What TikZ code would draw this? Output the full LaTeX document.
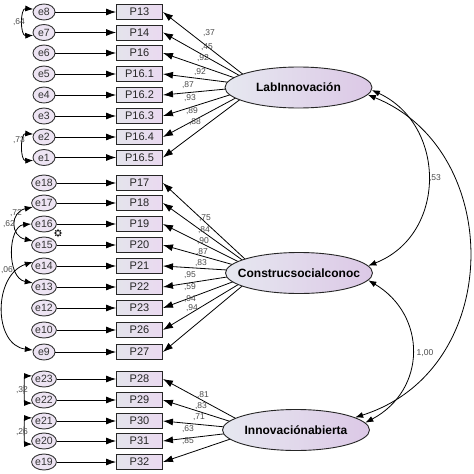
\documentclass[tikz,border=0pt]{standalone}
\usepackage{fontspec}
\setmainfont{Liberation Sans}
\usetikzlibrary{arrows.meta,shapes.geometric}
\definecolor{errfill}{HTML}{EDE4F3}
\definecolor{boxl}{HTML}{E4E4EC}
\definecolor{boxr}{HTML}{EAD9F0}
\definecolor{latl}{HTML}{E6E8F0}
\definecolor{latr}{HTML}{DCC8E6}
\begin{document}
\begin{tikzpicture}[x=1pt,y=-1pt,
  err/.style={ellipse, draw=black!80, line width=0.9pt, fill=errfill, minimum width=22pt, minimum height=16pt, inner sep=0pt, font=\fontsize{10.5}{10.5}\selectfont, text=black!80},
  obs/.style={rectangle, draw=black!85, line width=0.9pt, left color=boxl, right color=boxr, minimum width=46pt, minimum height=15pt, inner sep=0pt, font=\fontsize{11}{11}\selectfont, text=black!85},
  lat/.style={ellipse, draw=black!85, line width=0.9pt, left color=latl, right color=latr, minimum width=147pt, minimum height=41pt, inner sep=0pt},
  latname/.style={font=\bfseries\fontsize{12}{12}\selectfont, inner sep=0pt},
  arr/.style={line width=0.8pt, -{Latex[length=10pt,width=7pt]}},
  cov/.style={line width=0.8pt, {Latex[length=8pt,width=6pt]}-{Latex[length=8pt,width=6pt]}},
  lbl/.style={font=\fontsize{8.5}{8.5}\selectfont, text=black!70, inner sep=0pt}]
\fill[white] (0,0) rectangle (474,474);
\useasboundingbox (0,0) rectangle (474,474);
% error terms and indicators
\foreach \e/\n/\t/\y in {e8/o1/P13/12, e7/o2/P14/32.5, e6/o3/P16/53, e5/o4/P16.1/74, e4/o5/P16.2/95, e3/o6/P16.3/116, e2/o7/P16.4/137, e1/o8/P16.5/157.5,
  e18/o9/P17/183, e17/o10/P18/203, e16/o11/P19/224, e15/o12/P20/245, e14/o13/P21/266, e13/o14/P22/287, e12/o15/P23/308, e10/o16/P26/330, e9/o17/P27/352,
  e23/o18/P28/379, e22/o19/P29/400, e21/o20/P30/421, e20/o21/P31/441, e19/o22/P32/462}{
  \node[err] (\e) at (44,\y) {\e};
  \node[obs] (\n) at (139.5,\y) {\t};
  \draw[arr] (\e) -- (\n);
}
% focus points for loadings
\coordinate (labf) at (258,86);
\coordinate (conf) at (259,272);
\coordinate (innf) at (257,430);
\foreach \n/\v/\lx/\ly in {o1/{,37}/209/33, o2/{,45}/207/47, o3/{,92}/203/58, o4/{,92}/200/72, o5/{,87}/188/85, o6/{,93}/190/98, o7/{,89}/192/111, o8/{,88}/195/122}{
  \draw[arr] (labf) -- (\n.east);
  \node[lbl] at (\lx,\ly) {\v};
}
\foreach \n/\v/\lx/\ly in {o9/{,75}/205/218, o10/{,84}/204/230, o11/{,90}/203/241, o12/{,87}/202/252, o13/{,83}/201/263, o14/{,95}/190/275, o15/{,59}/190/287, o16/{,94}/190/299, o17/{,94}/192/308}{
  \draw[arr] (conf) -- (\n.east);
  \node[lbl] at (\lx,\ly) {\v};
}
\foreach \n/\v/\lx/\ly in {o18/{,81}/203/395, o19/{,83}/201/406, o20/{,71}/199/417, o21/{,63}/188/429, o22/{,85}/188/441}{
  \draw[arr] (innf) -- (\n.east);
  \node[lbl] at (\lx,\ly) {\v};
}
% latent variables
\node[lat] (lab) at (298.5,87.5) {};
\node[latname] at (lab.center) {LabInnovación};
\node[lat] (con) at (299,273) {};
\node[latname] at (con.center) {Construcsocialconoc};
\node[lat] (inn) at (296,430) {};
\node[latname] at (inn.center) {Innovaciónabierta};
% latent covariances
\draw[cov] (lab.-2) .. controls (447,125) and (447,235) .. (con.6);
\draw[cov] (con.-6) .. controls (427,315) and (427,390) .. (inn.6);
\draw[cov] (lab.-6) .. controls (505,150) and (505,370) .. (inn.12);
\node[lbl] at (435,178) {,53};
\node[lbl] at (425,353) {1,00};
% error covariances
\draw[cov] (e8.165) .. controls (20,8) and (20,36) .. (e7.195);
\draw[cov] (e2.165) .. controls (20,133) and (20,161) .. (e1.195);
\draw[cov] (e17.200) .. controls (10,212) and (10,236) .. (e15.160);
\draw[cov] (e16.west) .. controls (8,226) and (6,278) .. (e13.160);
\draw[cov] (e14.160) .. controls (-7,275) and (-7,345) .. (e9.170);
\draw[cov] (e23.165) .. controls (24,376) and (24,403) .. (e22.195);
\draw[cov] (e21.165) .. controls (24,418) and (24,444) .. (e20.195);
\node[lbl] at (19,22) {,64};
\node[lbl] at (19,140) {,73};
\node[lbl] at (16,213) {,72};
\node[lbl] at (9,224) {,62};
\node[lbl] at (7,270) {,06};
\node[lbl] at (22,390) {,32};
\node[lbl] at (22,432) {,26};
\node[star, star points=8, star point ratio=1.8, draw, fill=white, line width=0.6pt, minimum size=7pt, inner sep=0pt] (mark) at (58,233) {};
\end{tikzpicture}
\end{document}
